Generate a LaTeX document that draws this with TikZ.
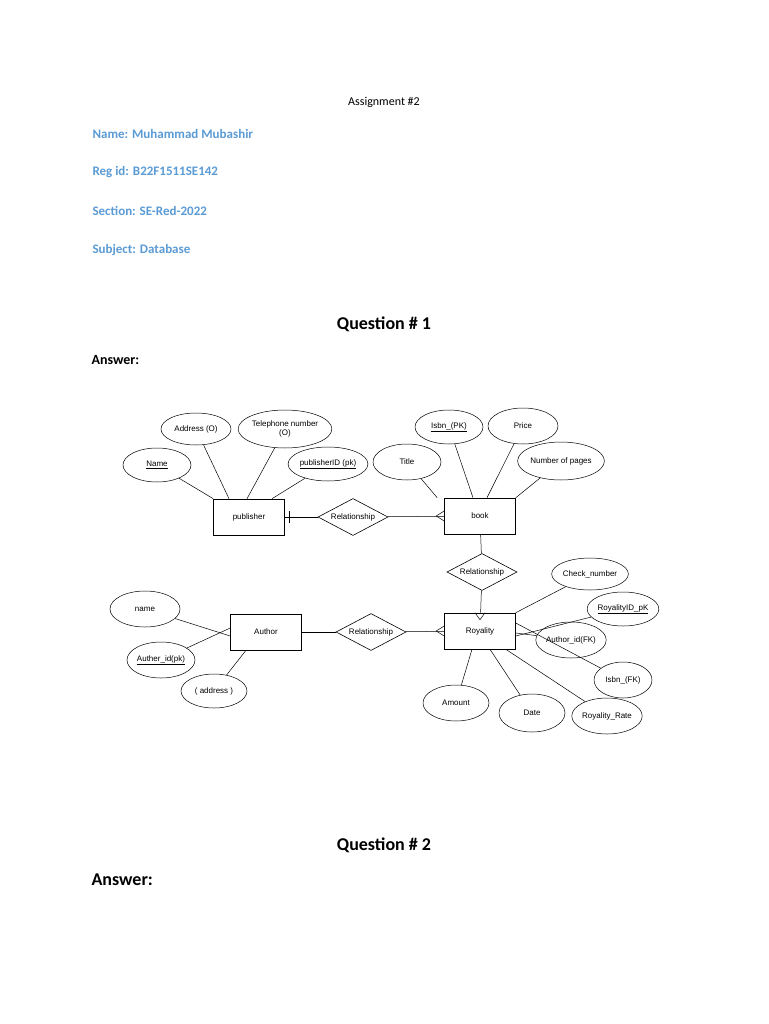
\documentclass[tikz,border=0pt]{standalone}
\usepackage{fontspec}
\setmainfont{Carlito}
\newfontfamily\diag{Liberation Sans}
\usetikzlibrary{shapes.geometric}
\definecolor{hblue}{HTML}{5B9BD5}
\begin{document}
\begin{tikzpicture}[x=1pt,y=-1pt,
  ent/.style={draw,line width=0.6pt,minimum width=71pt,minimum height=36pt,font=\diag\fontsize{8}{9}\selectfont,inner sep=0pt},
  rel/.style={draw,diamond,aspect=2,line width=0.6pt,minimum width=70pt,minimum height=37pt,font=\diag\fontsize{8}{9}\selectfont,inner sep=0pt},
  att/.style={draw,ellipse,line width=0.5pt,font=\diag\fontsize{8}{9}\selectfont,inner sep=0pt,align=center},
  con/.style={line width=0.5pt},
  info/.style={anchor=west,text=hblue,font=\bfseries\fontsize{13}{15}\selectfont}]
\useasboundingbox (0,0) rectangle (768,1024);
\fill[white] (0,0) rectangle (768,1024);
\node (title) at (384,102) {\fontsize{12}{14}\selectfont Assignment \#2};
\node[info] (n1) at (89,134) {Name: Muhammad Mubashir};
\node[info] (n2) at (89,172) {Reg id: B22F1511SE142};
\node[info] (n3) at (89,211) {Section: SE-Red-2022};
\node[info] (n4) at (89,250) {Subject: Database};
\node (q1) at (384,324) {\bfseries\fontsize{18}{20}\selectfont Question \# 1};
\node[anchor=west] (a1) at (88,360) {\bfseries\fontsize{14}{16}\selectfont Answer:};
\node (q2) at (384,845) {\bfseries\fontsize{18}{20}\selectfont Question \# 2};
\node[anchor=west] (a2) at (88,880) {\bfseries\fontsize{18}{20}\selectfont Answer:};

% entities
\node[ent] (pub) at (249,517) {publisher};
\node[ent] (book) at (480,516) {book};
\node[ent] (roy) at (480,631) {Royality};
\node[ent] (auth) at (266,632) {Author};
\node[rel] (r1) at (353,517) {Relationship};
\node[rel] (r2) at (482,572) {Relationship};
\node[rel] (r3) at (371,632) {Relationship};
% attributes
\node[att,minimum width=70pt,minimum height=32pt] (addr) at (196,429) {Address (O)};
\node[att,minimum width=70pt,minimum height=38pt] (tel) at (285,429) {Telephone number\\(O)};
\node[att,minimum width=68pt,minimum height=34pt] (name) at (157,465) {\underline{Name}};
\node[att,minimum width=66pt,minimum height=34pt] (pid) at (328,464) {\underline{publisherID (pk)}};
\node[att,minimum width=68pt,minimum height=34pt] (isbn) at (449,427) {\underline{Isbn\_(PK)}};
\node[att,minimum width=70pt,minimum height=36pt] (price) at (523,426) {Price};
\node[att,minimum width=68pt,minimum height=36pt] (ttl) at (407,462) {Title};
\node[att,minimum width=72pt,minimum height=38pt] (nop) at (561,461) {Number of pages};
\node[att,minimum width=70pt,minimum height=32pt] (chk) at (590,574) {Check\_number};
\node[att,minimum width=70pt,minimum height=34pt] (rid) at (623,609) {\underline{RoyalityID\_pK}};
\node[att,minimum width=60pt,minimum height=36pt] (aid) at (571,640) {Author\_id(FK)};
\node[att,minimum width=58pt,minimum height=36pt] (isfk) at (623,680) {Isbn\_(FK)};
\node[att,minimum width=66pt,minimum height=36pt] (amt) at (456,703) {Amount};
\node[att,minimum width=66pt,minimum height=38pt] (date) at (532,713) {Date};
\node[att,minimum width=70pt,minimum height=36pt] (rate) at (607,716) {Royality\_Rate};
\node[att,minimum width=70pt,minimum height=36pt] (aname) at (145,609) {name};
\node[att,minimum width=68pt,minimum height=36pt] (apk) at (161,660) {\underline{Auther\_id(pk)}};
\node[att,minimum width=66pt,minimum height=34pt] (aadr) at (214,691) {( address )};

% attribute connectors
\draw[con] (name) -- (pub.north west);
\draw[con] (addr) -- ([xshift=-20pt]pub.north);
\draw[con] (tel) -- ([xshift=-2pt]pub.north);
\draw[con] (pid) -- ([xshift=23pt]pub.north);
\draw[con] (ttl) -- ([xshift=-7pt]book.north west);
\draw[con] (isbn) -- ([xshift=-7pt]book.north);
\draw[con] (price) -- ([xshift=7pt]book.north);
\draw[con] (nop) -- (book.north east);
\draw[con] (chk) -- (roy.north east);
\draw[con] (rid) -- ([yshift=-5pt]roy.east);
\draw[con] (aid) -- ([yshift=-2pt]roy.east);
\draw[con] (isfk) -- ([yshift=8pt]roy.east);
\draw[con] (rate) -- ([xshift=-10pt]roy.south east);
\draw[con] (date) -- ([xshift=10pt]roy.south);
\draw[con] (amt) -- ([xshift=-8pt]roy.south);
\draw[con] (aname) -- ([yshift=-4pt]auth.west);
\draw[con] (apk) -- ([yshift=4pt]auth.west);
\draw[con] (aadr) -- ([xshift=-20pt]auth.south);

% relationship connectors
\draw[con] (pub) -- (r1);
\draw[con] (r1) -- (book);
\draw[con] (book) -- (r2);
\draw[con] (r2) -- (roy);
\draw[con] (auth) -- (r3);
\draw[con] (r3) -- (roy);
% cardinality marks
\draw[con] ([xshift=4pt,yshift=-6pt]pub.east) -- ([xshift=4pt,yshift=6pt]pub.east);
\draw[con] ([xshift=-8pt]book.west) -- ([yshift=-5pt]book.west) ([xshift=-8pt]book.west) -- ([yshift=5pt]book.west);
\draw[con] ([xshift=-8pt]roy.west) -- ([yshift=-5pt]roy.west) ([xshift=-8pt]roy.west) -- ([yshift=5pt]roy.west);
\draw[con] ([yshift=-7pt]roy.north) -- ([xshift=-5pt]roy.north) ([yshift=-7pt]roy.north) -- ([xshift=5pt]roy.north);
\end{tikzpicture}
\end{document}
